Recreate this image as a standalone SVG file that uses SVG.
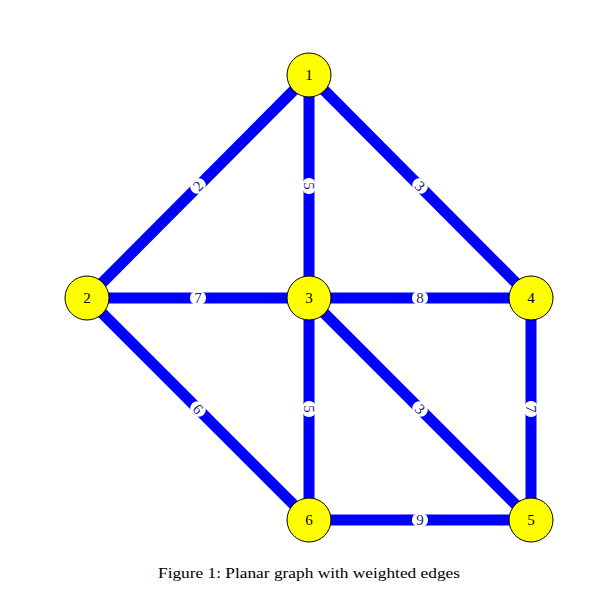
<svg xmlns="http://www.w3.org/2000/svg" width="616" height="595" viewBox="0 0 616 595">
<style>
.e{stroke:#0000ff;stroke-width:11}
.n circle{fill:#ffff00;stroke:#000;stroke-width:1}
.n text,.t{font-family:"Liberation Serif",serif;font-size:15px;text-anchor:middle;dominant-baseline:central}
.lb{fill:#fff}
.lt{font-family:"Liberation Serif",serif;font-size:15px;text-anchor:middle;dominant-baseline:central;fill:#22227a}
</style>
<rect width="616" height="595" fill="#fff"/>
<g id="connectors">
<line class="e" x1="309" y1="75" x2="87" y2="298"/>
<line class="e" x1="309" y1="75" x2="309" y2="298"/>
<line class="e" x1="309" y1="75" x2="531" y2="298"/>
<line class="e" x1="87" y1="298" x2="531" y2="298"/>
<line class="e" x1="87" y1="298" x2="309" y2="520"/>
<line class="e" x1="309" y1="298" x2="309" y2="520"/>
<line class="e" x1="309" y1="298" x2="531" y2="520"/>
<line class="e" x1="531" y1="298" x2="531" y2="520"/>
<line class="e" x1="309" y1="520" x2="531" y2="520"/>
<g transform="translate(198,186) rotate(-45)"><rect class="lb" x="-8" y="-6.5" width="16" height="13" rx="6"/><text class="lt">2</text></g>
<g transform="translate(309,186) rotate(90)"><rect class="lb" x="-8" y="-6.5" width="16" height="13" rx="6"/><text class="lt">5</text></g>
<g transform="translate(420,186) rotate(45)"><rect class="lb" x="-8" y="-6.5" width="16" height="13" rx="6"/><text class="lt">3</text></g>
<g transform="translate(198,298)"><rect class="lb" x="-8" y="-6.5" width="16" height="13" rx="6"/><text class="lt">7</text></g>
<g transform="translate(420,298)"><rect class="lb" x="-8" y="-6.5" width="16" height="13" rx="6"/><text class="lt">8</text></g>
<g transform="translate(198,409) rotate(45)"><rect class="lb" x="-8" y="-6.5" width="16" height="13" rx="6"/><text class="lt">6</text></g>
<g transform="translate(309,409) rotate(90)"><rect class="lb" x="-8" y="-6.5" width="16" height="13" rx="6"/><text class="lt">5</text></g>
<g transform="translate(420,409) rotate(45)"><rect class="lb" x="-8" y="-6.5" width="16" height="13" rx="6"/><text class="lt">3</text></g>
<g transform="translate(531,409) rotate(90)"><rect class="lb" x="-8" y="-6.5" width="16" height="13" rx="6"/><text class="lt">7</text></g>
<g transform="translate(420,520)"><rect class="lb" x="-8" y="-6.5" width="16" height="13" rx="6"/><text class="lt">9</text></g>
</g>
<g id="n1" class="n"><circle cx="309" cy="75" r="22"/><text x="309" y="75">1</text></g>
<g id="n2" class="n"><circle cx="87" cy="298" r="22"/><text x="87" y="298">2</text></g>
<g id="n3" class="n"><circle cx="309" cy="298" r="22"/><text x="309" y="298">3</text></g>
<g id="n4" class="n"><circle cx="531" cy="298" r="22"/><text x="531" y="298">4</text></g>
<g id="n5" class="n"><circle cx="531" cy="520" r="22"/><text x="531" y="520">5</text></g>
<g id="n6" class="n"><circle cx="309" cy="520" r="22"/><text x="309" y="520">6</text></g>
<text class="t" x="309" y="573" textLength="302" lengthAdjust="spacingAndGlyphs">Figure 1: Planar graph with weighted edges</text>
</svg>
